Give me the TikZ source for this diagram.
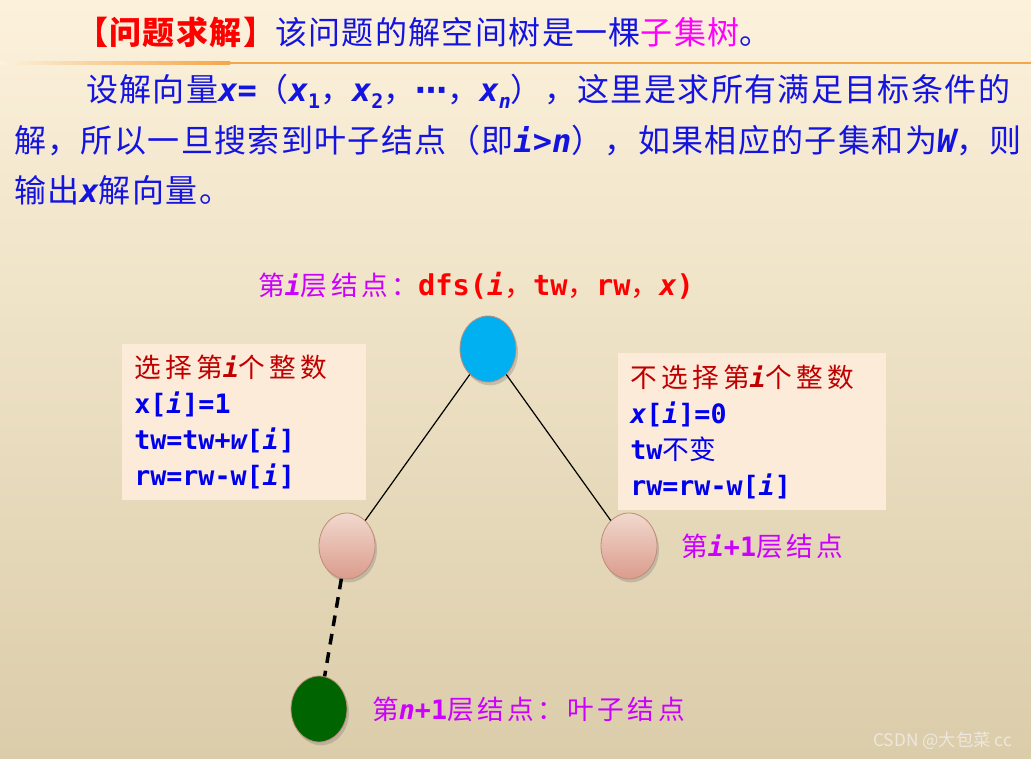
\documentclass[tikz,border=0pt]{standalone}
\usepackage{fontspec}
\setmainfont{Noto Sans CJK SC}
\newfontfamily\codefont{DejaVu Sans Mono}
\newfontfamily\symfont{DejaVu Sans}
\usetikzlibrary{trees,shapes.geometric,shadows}

\definecolor{bgtop}{RGB}{252,241,219}
\definecolor{bgmid}{RGB}{243,235,213}
\definecolor{bgbot}{RGB}{219,205,170}
\definecolor{lineorange}{RGB}{245,166,72}
\definecolor{txtblue}{RGB}{20,20,225}
\definecolor{codeblue}{RGB}{0,0,235}
\definecolor{titlered}{RGB}{255,0,0}
\definecolor{subpink}{RGB}{255,0,255}
\definecolor{lblpurple}{RGB}{204,0,255}
\definecolor{boxred}{RGB}{192,0,0}
\definecolor{boxfill}{RGB}{253,235,217}
\definecolor{rootblue}{RGB}{0,176,240}
\definecolor{leafgreen}{RGB}{0,100,0}
\definecolor{nodeedge}{RGB}{190,140,120}
\definecolor{markgray}{RGB}{236,232,222}

\newcommand\cd[1]{{\codefont\bfseries #1}}
\newcommand\ci[1]{{\codefont\bfseries\itshape #1}}
\newcommand\subx[1]{\raisebox{-0.4ex}{\codefont\bfseries\fontsize{15}{15}\selectfont #1}}
\newcommand\boxhead[1]{{\color{boxred}\addfontfeature{LetterSpace=16}#1}}

\begin{document}
\begin{tikzpicture}[
  x=0.75pt, y=-0.75pt,
  level distance=147.75pt,
  level 1/.style={sibling distance=211.5pt},
  level 2/.style={level distance=122.25pt},
  edge from parent/.style={draw, black, line width=0.9pt},
  treenode/.style={ellipse, minimum width=42pt, minimum height=49.5pt, inner sep=0pt,
    draw=nodeedge, line width=0.6pt,
    drop shadow={shadow xshift=1.5pt, shadow yshift=-2.5pt, opacity=0.35}},
  rootnode/.style={treenode, fill=rootblue},
  midnode/.style={treenode, top color={rgb,255:red,242;green,216;blue,206}, bottom color={rgb,255:red,218;green,156;blue,140}},
  leafnode/.style={treenode, fill=leafgreen},
  txt/.style={anchor=west, inner sep=0pt},
  para/.style={txt, text=txtblue, font=\fontsize{24}{28}\selectfont\addfontfeature{LetterSpace=4.3}},
  lbl/.style={txt, text=lblpurple, font=\fontsize{20}{24}\selectfont\addfontfeature{LetterSpace=13}},
  codebox/.style={anchor=north west, fill=boxfill, align=left, text=codeblue,
    font=\fontsize{20}{27}\selectfont, inner xsep=9pt}
]
% background and heading rule
\fill[top color=bgtop, middle color=bgmid, bottom color=bgbot] (0,0) rectangle (1031,759);
\useasboundingbox (0,0) rectangle (1031,759);
\shade[left color=bgtop, right color=lineorange] (0,62) rectangle (230,64.5);
\fill[lineorange] (230,62) rectangle (1031,64.5);

% heading and explanation
\node[para] (title) at (76,32) {{\color{titlered}\bfseries 【问题求解】}该问题的解空间树是一棵{\color{subpink}子集树}。};
\node[para] (line1) at (86,91) {设解向量\ci{x}\cd{=}（\ci{x}\subx{1}，\ci{x}\subx{2}，{\symfont\bfseries ⋯}，\ci{x}\subx{\itshape n}），这里是求所有满足目标条件的};
\node[para] (line2) at (14,141) {解，所以一旦搜索到叶子结点（即\ci{i}\cd{>}\ci{n}），如果相应的子集和为\ci{W}，则};
\node[para] (line3) at (14,190) {输出\ci{x}解向量。};

% solution space tree
\node[rootnode] (root) at (488,349) {}
  child { node[midnode] (left) {}
    child { node[leafnode, xshift=-21pt] (leaf) {}
      edge from parent[dashed, dash pattern=on 8pt off 6pt, line width=2.6pt] }
  }
  child { node[midnode] (right) {} };

\node[lbl] (rootlbl) at (258,286) {第\ci{i}层结点：{\color{titlered}\fontsize{21.5}{24}\selectfont\cd{dfs(}\ci{i}，\cd{tw}，\cd{rw}，\ci{x}\cd{)}}};
\node[lbl] (midlbl) at (681,546) {第\ci{i}\cd{+1}层结点};
\node[lbl] (leaflbl) at (372,709) {第\ci{n}\cd{+1}层结点：叶子结点};

\node[codebox, text width=165pt, minimum height=117pt] (selbox) at (122,344)
  {\boxhead{选择第\ci{i}个整数}\\ \cd{x[}\ci{i}\cd{]=1}\\ \cd{tw=tw+}\ci{w}\cd{[}\ci{i}\cd{]}\\ \cd{rw=rw-w[}\ci{i}\cd{]}};
\node[codebox, text width=183pt, minimum height=117.75pt] (skipbox) at (618,353)
  {\boxhead{不选择第\ci{i}个整数}\\ \ci{x}\cd{[}\ci{i}\cd{]=0}\\ \cd{tw}不变\\ \cd{rw=rw-w[}\ci{i}\cd{]}};

\node[txt, text=markgray, font=\fontsize{13}{15}\selectfont] (mark) at (873,741) {CSDN @大包菜 cc};
\end{tikzpicture}
\end{document}
